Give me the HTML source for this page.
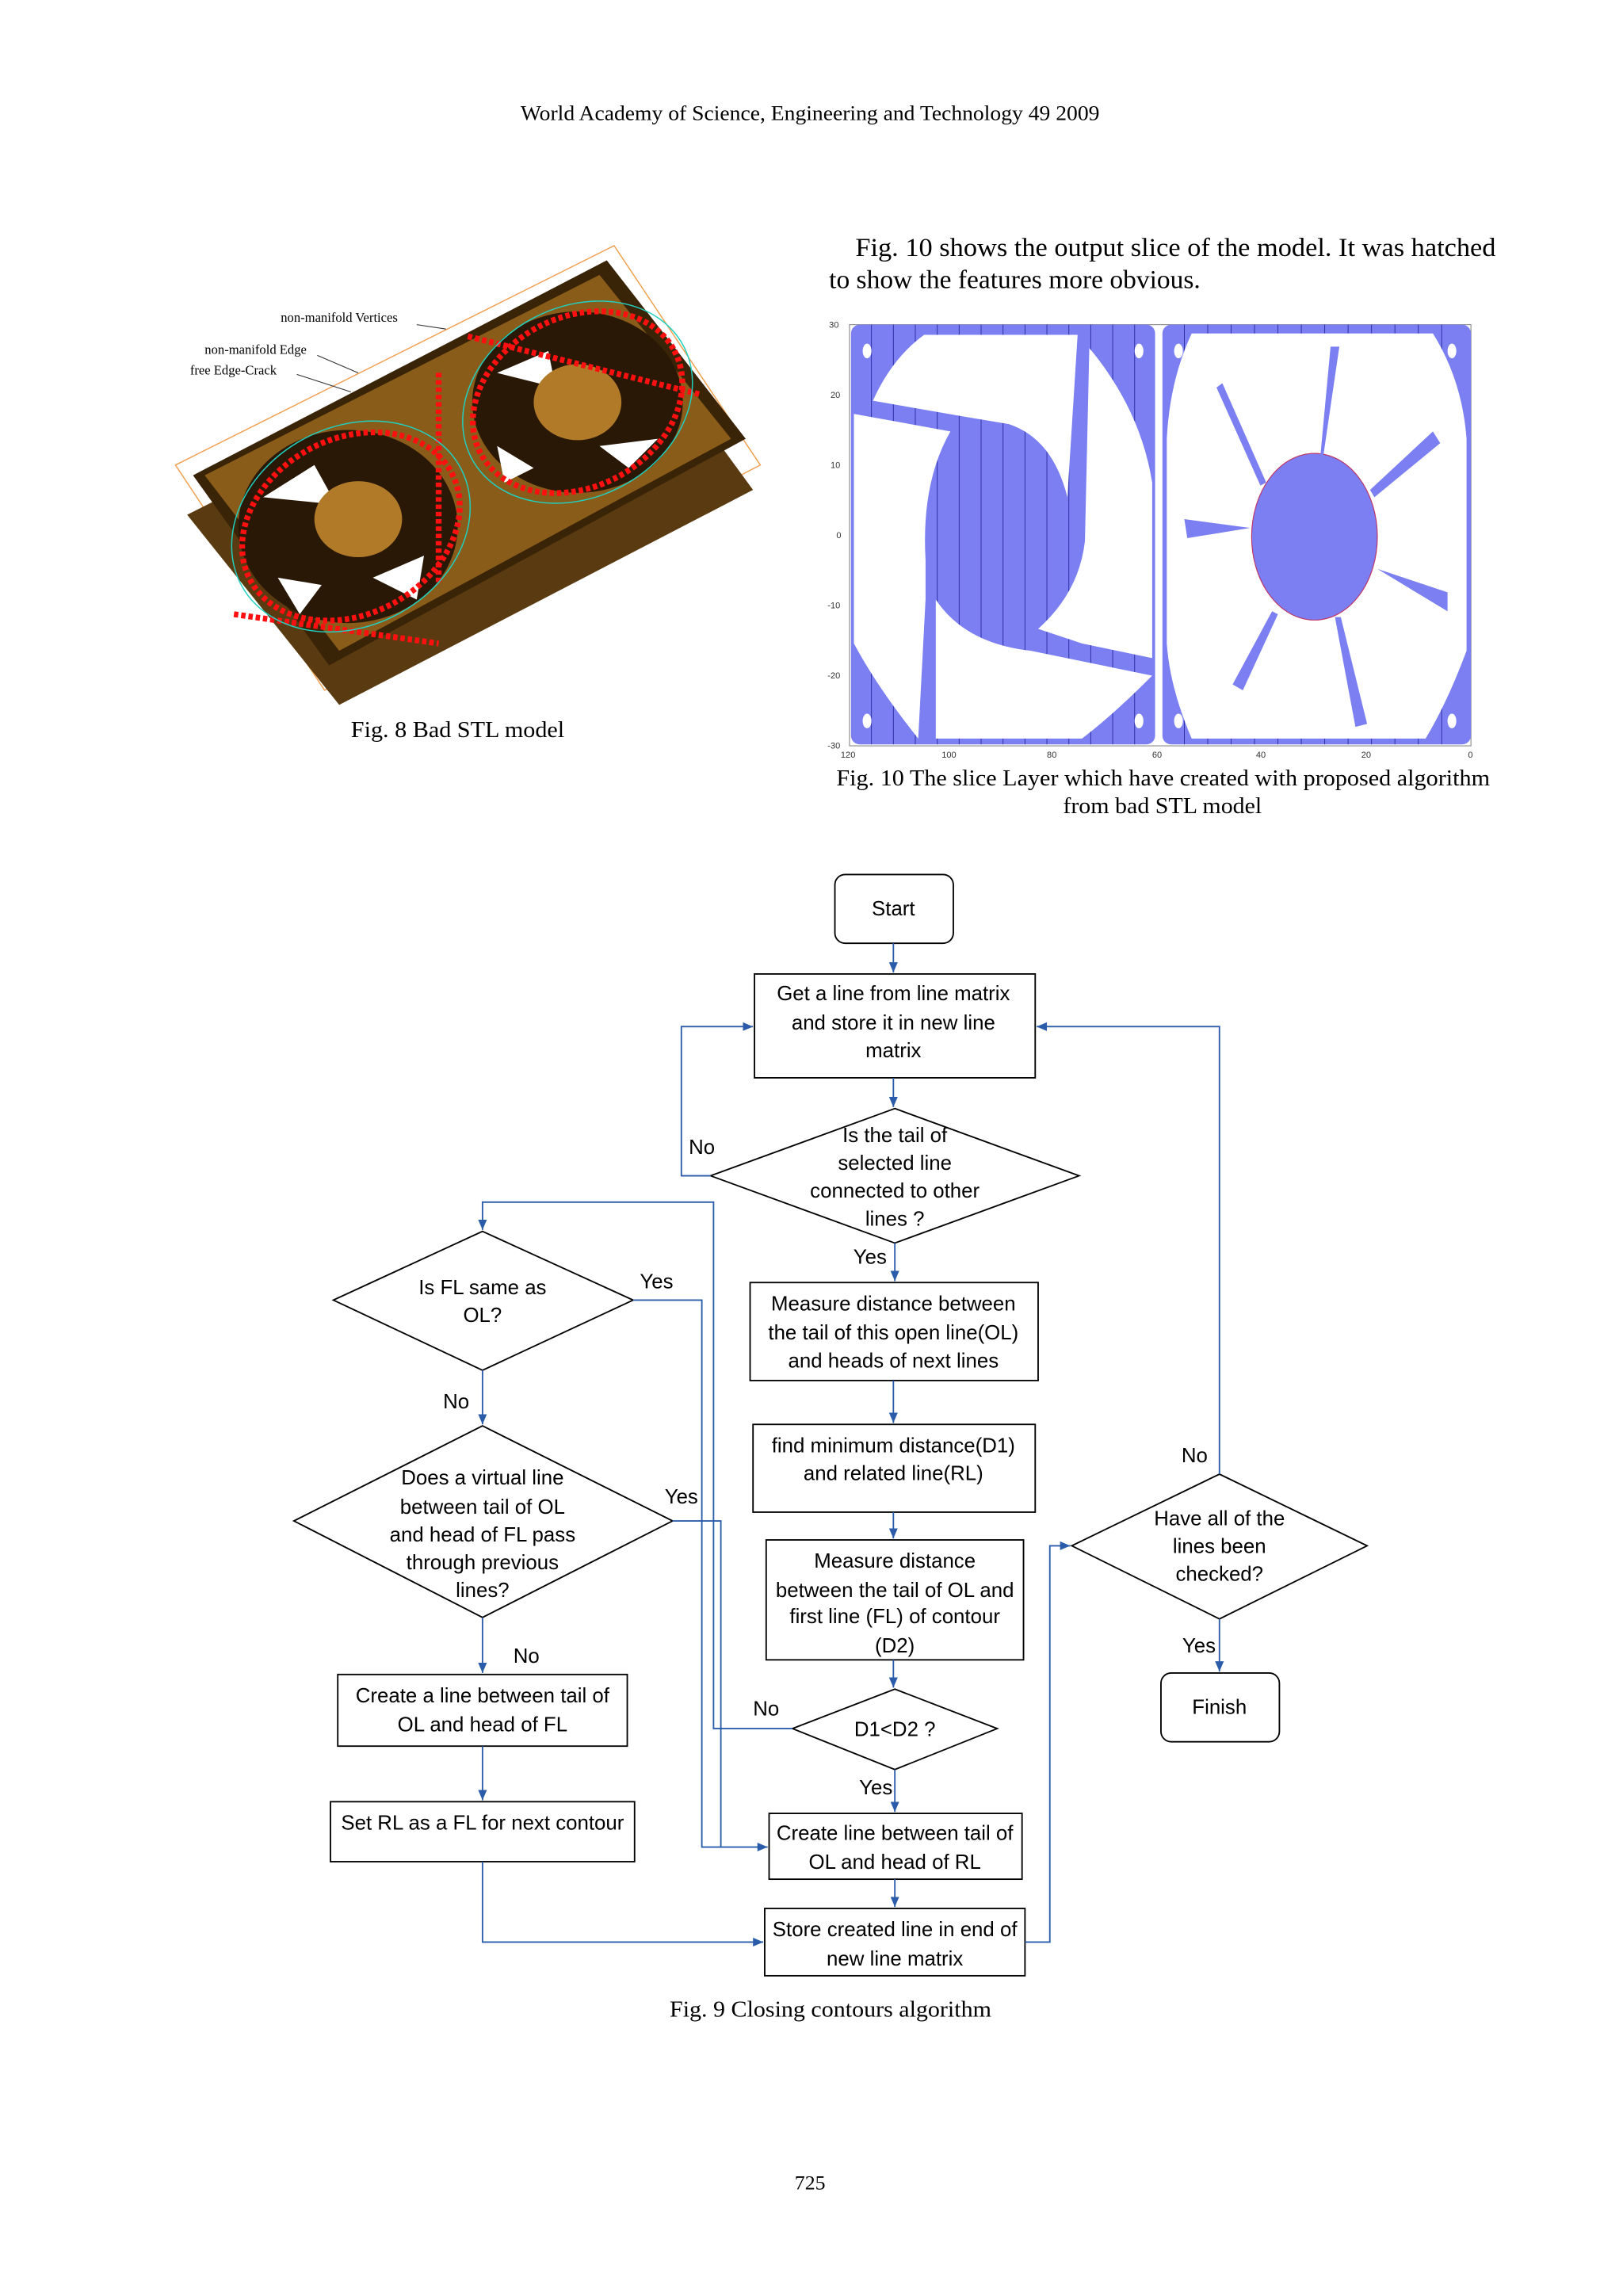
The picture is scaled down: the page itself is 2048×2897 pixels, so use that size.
<!DOCTYPE html>
<html><head><meta charset="utf-8"><style>html,body{margin:0;padding:0;background:#fff}svg{display:block}</style></head>
<body>
<svg xmlns="http://www.w3.org/2000/svg" width="2048" height="2897" viewBox="0 0 1110 1570" preserveAspectRatio="none">
<defs>
<marker id="a" markerWidth="8" markerHeight="8" refX="7" refY="4" orient="auto" markerUnits="userSpaceOnUse"><path d="M0,1 L7,4 L0,7 z" fill="#2a5caa"/></marker>
</defs>
<g font-family="Liberation Serif, serif" fill="#000">
<text x="356" y="82" font-size="14.5" textLength="396" lengthAdjust="spacingAndGlyphs">World Academy of Science, Engineering and Technology 49 2009</text>
<text x="585" y="175" font-size="17.5" textLength="438" lengthAdjust="spacingAndGlyphs">Fig. 10 shows the output slice of the model. It was hatched</text>
<text x="567" y="197" font-size="17.5" textLength="254" lengthAdjust="spacingAndGlyphs">to show the features more obvious.</text>
<text x="240" y="504" font-size="15.5" textLength="146" lengthAdjust="spacingAndGlyphs">Fig. 8 Bad STL model</text>
<text x="572" y="537" font-size="15.5" textLength="447" lengthAdjust="spacingAndGlyphs">Fig. 10 The slice Layer which have created with proposed algorithm</text>
<text x="727" y="556" font-size="15.5" textLength="136" lengthAdjust="spacingAndGlyphs">from bad STL model</text>
<text x="458" y="1379" font-size="15.5" textLength="220" lengthAdjust="spacingAndGlyphs">Fig. 9 Closing contours algorithm</text>
<text x="554" y="1497" font-size="14" text-anchor="middle">725</text>
</g>

<!-- Fig 8 fan -->
<g>
<polygon points="120,318 420,168 520,318 222,472" fill="none" stroke="#f0a050" stroke-width="0.8"/>
<polygon points="128,352 420,205 515,335 232,482" fill="#5a3a10"/>
<polygon points="132,325 415,178 510,300 225,455" fill="#3a2408"/>
<polygon points="140,325 410,188 500,300 232,445" fill="#8a5c1a"/>
<ellipse cx="238" cy="360" rx="75" ry="66" fill="#2a1806"/>
<ellipse cx="395" cy="275" rx="72" ry="62" fill="#2a1806"/>
<path d="M180,340 L215,318 L230,345 Z M255,395 L290,380 L285,410 Z M190,395 L220,400 L205,420Z" fill="#fff"/>
<path d="M340,255 L375,240 L380,265 Z M410,305 L450,300 L430,320 Z M340,305 L365,320 L345,330Z" fill="#fff"/>
<ellipse cx="245" cy="355" rx="30" ry="26" fill="#b07a28"/>
<ellipse cx="395" cy="275" rx="30" ry="26" fill="#b07a28"/>
<g fill="none" stroke="#ff1010" stroke-width="4" stroke-dasharray="3 2">
<ellipse cx="240" cy="360" rx="78" ry="60" transform="rotate(-28 240 360)"/>
<ellipse cx="395" cy="275" rx="75" ry="58" transform="rotate(-28 395 275)"/>
<path d="M300,255 L300,400 M160,420 L300,440 M320,230 L480,270"/>
</g>
<g fill="none" stroke="#20d0c0" stroke-width="0.8">
<ellipse cx="240" cy="360" rx="85" ry="68" transform="rotate(-28 240 360)"/>
<ellipse cx="395" cy="275" rx="82" ry="65" transform="rotate(-28 395 275)"/>
</g>
<g font-family="Liberation Serif, serif" font-size="9">
<text x="192" y="220">non-manifold Vertices</text>
<text x="140" y="242">non-manifold Edge</text>
<text x="130" y="256">free Edge-Crack</text>
</g>
<path d="M285,222 L305,225 M217,243 L245,255 M203,256 L240,268" stroke="#333" stroke-width="0.6"/>
</g>

<!-- Fig 10 plot -->
<g>
<rect x="581" y="222" width="425" height="288" fill="none" stroke="#888" stroke-width="0.6"/>
<rect x="582" y="222" width="208" height="287" rx="6" fill="#7b7ff2"/>
<rect x="795" y="222" width="211" height="287" rx="6" fill="#7b7ff2"/>
<g stroke="#2a2aa0" stroke-width="0.5">
<path d="M596,222V509 M611,222V509 M626,222V509 M641,222V509 M656,222V509 M671,222V509 M686,222V509 M701,222V509 M716,222V509 M731,222V509 M746,222V509 M761,222V509 M776,222V509 M810,222V509 M826,222V509 M842,222V509 M858,222V509 M874,222V509 M890,222V509 M906,222V509 M922,222V509 M938,222V509 M954,222V509 M970,222V509 M986,222V509"/>
</g>
<path d="M632,229 L737,229 L730,340 Q720,300 690,290 L660,285 L597,274 Q610,245 632,229Z" fill="#fff"/>
<path d="M745,238 Q780,280 788,330 L788,450 L740,440 L710,430 Q738,405 742,370Z" fill="#fff"/>
<path d="M584,283 L650,295 Q630,330 633,383 L633,410 L628,505 Q600,470 584,440Z" fill="#fff"/>
<path d="M640,410 Q660,440 705,445 L788,462 Q760,490 740,505 L640,505Z" fill="#fff"/>
<path d="M815,228 L980,228 Q1000,260 1003,300 L1003,445 Q990,480 975,505 L815,505 Q800,470 798,440 L798,300 Q800,260 815,228Z" fill="#fff"/>
<ellipse cx="899" cy="367" rx="43" ry="57" fill="#7b7ff2" stroke="#c03060" stroke-width="0.6"/>
<g fill="#7b7ff2">
<path d="M910,237 L916,237 L905,312 L903,312Z"/>
<path d="M832,265 L836,262 L866,330 L862,332Z"/>
<path d="M980,295 L985,303 L940,340 L937,335Z"/>
<path d="M810,355 L855,361 L812,368Z"/>
<path d="M942,389 L990,405 L990,418Z"/>
<path d="M870,418 L874,420 L850,472 L843,468Z"/>
<path d="M913,422 L917,422 L935,495 L927,497Z"/>
</g>
<g fill="#fff">
<ellipse cx="593" cy="240" rx="3" ry="5"/><ellipse cx="779" cy="240" rx="3" ry="5"/><ellipse cx="806" cy="240" rx="3" ry="5"/><ellipse cx="993" cy="240" rx="3" ry="5"/>
<ellipse cx="593" cy="493" rx="3" ry="5"/><ellipse cx="779" cy="493" rx="3" ry="5"/><ellipse cx="806" cy="493" rx="3" ry="5"/><ellipse cx="993" cy="493" rx="3" ry="5"/>
</g>
<g font-family="Liberation Sans, sans-serif" font-size="6" fill="#333">
<text x="567" y="224">30</text><text x="568" y="272">20</text><text x="568" y="320">10</text><text x="572" y="368">0</text><text x="566" y="416">-10</text><text x="566" y="464">-20</text><text x="566" y="512">-30</text>
<text x="575" y="518">120</text><text x="644" y="518">100</text><text x="716" y="518">80</text><text x="788" y="518">60</text><text x="859" y="518">40</text><text x="931" y="518">20</text><text x="1004" y="518">0</text>
</g>
</g>

<!-- Flowchart -->
<g fill="none" stroke="#000" stroke-width="1">
<rect x="571" y="598" width="81" height="47" rx="7"/>
<rect x="516" y="666" width="192" height="71"/>
<polygon points="612,758 738,804 612,850 486,804"/>
<rect x="513" y="877" width="197" height="67"/>
<rect x="515" y="974" width="193" height="60"/>
<rect x="524" y="1053" width="176" height="82"/>
<polygon points="612,1155 682,1182 612,1210 542,1182"/>
<rect x="526" y="1240" width="173" height="45"/>
<rect x="523" y="1305" width="178" height="46"/>
<polygon points="834,1008 935,1057 834,1107 733,1057"/>
<rect x="794" y="1144" width="81" height="47" rx="7"/>
<polygon points="330,842 433,889 330,937 228,889"/>
<polygon points="330,975 460,1040 330,1106 201,1040"/>
<rect x="231" y="1145" width="198" height="49"/>
<rect x="226" y="1232" width="208" height="41"/>
</g>
<g fill="none" stroke="#2a5caa" stroke-width="1">
<path d="M611,645V665" marker-end="url(#a)"/>
<path d="M611,737V757" marker-end="url(#a)"/>
<path d="M486,804H466V702H515" marker-end="url(#a)"/>
<path d="M612,850V876" marker-end="url(#a)"/>
<path d="M611,944V973" marker-end="url(#a)"/>
<path d="M611,1034V1052" marker-end="url(#a)"/>
<path d="M611,1135V1154" marker-end="url(#a)"/>
<path d="M542,1182H488V822H330V841" marker-end="url(#a)"/>
<path d="M612,1210V1239" marker-end="url(#a)"/>
<path d="M612,1285V1304" marker-end="url(#a)"/>
<path d="M701,1328H718V1057H732" marker-end="url(#a)"/>
<path d="M834,1008V702H709" marker-end="url(#a)"/>
<path d="M834,1107V1143" marker-end="url(#a)"/>
<path d="M433,889H480V1263H525" marker-end="url(#a)"/>
<path d="M460,1040H493V1263"/>
<path d="M330,937V974" marker-end="url(#a)"/>
<path d="M330,1106V1144" marker-end="url(#a)"/>
<path d="M330,1194V1231" marker-end="url(#a)"/>
<path d="M330,1273V1328H522" marker-end="url(#a)"/>
</g>
<g font-family="Liberation Sans, sans-serif" font-size="14" fill="#000" text-anchor="middle">
<text x="611" y="626">Start</text>
<text x="611" y="684">Get  a line from line matrix</text>
<text x="611" y="704">and store it in new line</text>
<text x="611" y="723">matrix</text>
<text x="612" y="781">Is the tail of</text>
<text x="612" y="800">selected line</text>
<text x="612" y="819">connected to other</text>
<text x="612" y="838">lines ?</text>
<text x="611" y="896">Measure distance between</text>
<text x="611" y="916">the tail of this open line(OL)</text>
<text x="611" y="935">and heads of next lines</text>
<text x="611" y="993">find minimum distance(D1)</text>
<text x="611" y="1012">and  related line(RL)</text>
<text x="612" y="1072">Measure distance</text>
<text x="612" y="1092">between the tail of OL and</text>
<text x="612" y="1110">first line (FL) of contour</text>
<text x="612" y="1130">(D2)</text>
<text x="612" y="1187">D1&lt;D2 ?</text>
<text x="612" y="1258">Create line between tail of</text>
<text x="612" y="1278">OL and head of RL</text>
<text x="612" y="1324">Store created line in end of</text>
<text x="612" y="1344">new line matrix</text>
<text x="834" y="1043">Have all of the</text>
<text x="834" y="1062">lines been</text>
<text x="834" y="1081">checked?</text>
<text x="834" y="1172">Finish</text>
<text x="330" y="885">Is FL same as</text>
<text x="330" y="904">OL?</text>
<text x="330" y="1015">Does a virtual line</text>
<text x="330" y="1035">between tail of OL</text>
<text x="330" y="1054">and head of FL pass</text>
<text x="330" y="1073">through previous</text>
<text x="330" y="1092">lines?</text>
<text x="330" y="1164">Create a line between tail of</text>
<text x="330" y="1184">OL and head of FL</text>
<text x="330" y="1251">Set RL as a FL for next contour</text>
<text x="480" y="789">No</text>
<text x="595" y="864">Yes</text>
<text x="524" y="1173">No</text>
<text x="599" y="1227">Yes</text>
<text x="817" y="1000">No</text>
<text x="820" y="1130">Yes</text>
<text x="449" y="881">Yes</text>
<text x="312" y="963">No</text>
<text x="466" y="1028">Yes</text>
<text x="360" y="1137">No</text>
</g>
</svg>
</body></html>
